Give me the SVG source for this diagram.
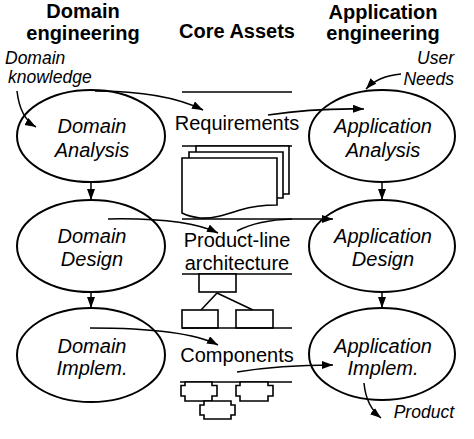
<svg xmlns="http://www.w3.org/2000/svg" width="474" height="439" viewBox="0 0 474 439">
<defs>
<marker id="ah" markerUnits="userSpaceOnUse" markerWidth="12" markerHeight="9" refX="11" refY="4" orient="auto">
<path d="M0,0 L11,4 L0,8 z" fill="#000"/>
</marker>
<style>
.hd{font-family:"Liberation Sans",Arial,sans-serif;font-weight:bold;font-size:20px;text-anchor:middle;fill:#000}
.it{font-family:"Liberation Sans",Arial,sans-serif;font-style:italic;font-size:20px;text-anchor:middle;fill:#000}
.sm{font-family:"Liberation Sans",Arial,sans-serif;font-style:italic;font-size:17.5px;fill:#000}
.ca{font-family:"Liberation Sans",Arial,sans-serif;font-size:20px;text-anchor:middle;fill:#000}
.el{fill:#fff;stroke:#000;stroke-width:2}
.ln{fill:none;stroke:#000;stroke-width:1.6}
.bx{fill:#fff;stroke:#000;stroke-width:1.6}
.cn{fill:none;stroke:#000;stroke-width:1.5;marker-end:url(#ah)}
</style>
</defs>
<rect width="474" height="439" fill="#fff"/>

<g id="headers">
<text class="hd" x="83" y="18">Domain</text>
<text class="hd" x="83" y="40">engineering</text>
<text class="hd" x="237" y="38">Core Assets</text>
<text class="hd" x="383" y="19">Application</text>
<text class="hd" x="383" y="40">engineering</text>
</g>

<g id="inputs">
<text class="sm" x="5" y="64">Domain</text>
<text class="sm" x="8" y="83">knowledge</text>
<text class="sm" x="454" y="64" text-anchor="end">User</text>
<text class="sm" x="454" y="85" text-anchor="end">Needs</text>
<text class="sm" x="454" y="418" text-anchor="end">Product</text>
</g>

<g id="domain-analysis">
<ellipse class="el" cx="91" cy="136" rx="74" ry="46"/>
<text class="it" x="92" y="133">Domain</text>
<text class="it" x="92" y="157">Analysis</text>
</g>
<g id="domain-design">
<ellipse class="el" cx="91" cy="246" rx="74" ry="46"/>
<text class="it" x="92" y="243">Domain</text>
<text class="it" x="92" y="266">Design</text>
</g>
<g id="domain-implem">
<ellipse class="el" cx="91" cy="355" rx="74" ry="47"/>
<text class="it" x="92" y="353">Domain</text>
<text class="it" x="92" y="375">Implem.</text>
</g>

<g id="app-analysis">
<ellipse class="el" cx="382" cy="136" rx="73" ry="46"/>
<text class="it" x="383" y="133">Application</text>
<text class="it" x="383" y="157">Analysis</text>
</g>
<g id="app-design">
<ellipse class="el" cx="382" cy="246" rx="73" ry="46"/>
<text class="it" x="383" y="243">Application</text>
<text class="it" x="383" y="266">Design</text>
</g>
<g id="app-implem">
<ellipse class="el" cx="382" cy="354" rx="73" ry="46"/>
<text class="it" x="383" y="353">Application</text>
<text class="it" x="383" y="375">Implem.</text>
</g>

<g id="requirements">
<line class="ln" x1="182" y1="92" x2="292" y2="92"/>
<text class="ca" x="237" y="130">Requirements</text>
<line class="ln" x1="182" y1="146" x2="292" y2="146"/>
<path class="bx" d="M196,146 H289 V194 H196 Z"/>
<path class="bx" d="M189,152 H283 V198 H189 Z"/>
<path class="bx" d="M182,158 H277 V205 C262,205 250,207 240,210 C225,215 212,219 200,218 C192,217 186,215 182,213 Z"/>
</g>

<g id="product-line-architecture">
<line class="ln" x1="182" y1="219" x2="292" y2="219"/>
<text class="ca" x="237" y="247">Product-line</text>
<text class="ca" x="237" y="270">architecture</text>
<line class="ln" x1="182" y1="274" x2="292" y2="274"/>
<rect class="bx" x="199" y="274" width="37" height="18"/>
<path class="ln" d="M217,293 L201,310 M217,293 L253,310"/>
<rect class="bx" x="182" y="310" width="36" height="18"/>
<rect class="bx" x="236" y="310" width="37" height="18"/>
<line class="ln" x1="182" y1="328" x2="292" y2="328"/>
</g>

<g id="components">
<text class="ca" x="237" y="362">Components</text>
<line class="ln" x1="180" y1="382" x2="292" y2="382"/>
<path class="bx" d="M185,382 V385.5 H181 V396 H185 V401 H212 V396 H217 V385.5 H212 V382 Z"/>
<path class="bx" d="M240,382 V385.5 H236 V396 H240 V401 H268 V396 H273 V385.5 H268 V382 Z"/>
<path class="bx" d="M204,401 V405 H200 V415 H204 V419 H231 V415 H235 V405 H231 V401 Z"/>
</g>

<g id="connectors">
<path class="cn" d="M91,182 V200"/>
<path class="cn" d="M91,292 V308"/>
<path class="cn" d="M382,182 V200"/>
<path class="cn" d="M382,292 V308"/>
<path class="cn" d="M17,91 Q20,118 36,127"/>
<path class="cn" d="M95,91 Q165,91 203,110"/>
<path class="cn" d="M268,115 Q315,108 364,109"/>
<path class="cn" d="M401,74 Q378,76 366,89"/>
<path class="cn" d="M108,219 C160,218 195,222 218,233"/>
<path class="cn" d="M237,231 Q258,220 292,219 L333,219"/>
<path class="cn" d="M90,328 C150,328 195,333 218,345"/>
<path class="cn" d="M237,372 Q280,365 333,365"/>
<path class="cn" d="M364,383 Q366,406 381,418"/>
</g>
</svg>
